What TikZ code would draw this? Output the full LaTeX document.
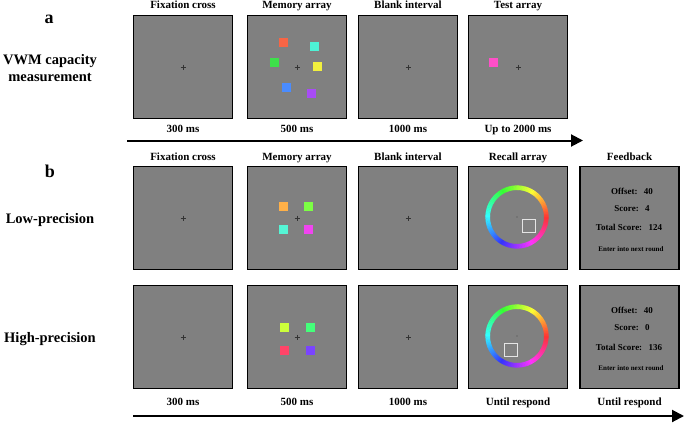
\documentclass[tikz,border=0pt]{standalone}
\usepackage{fontspec}
\setmainfont{Liberation Serif}
\usetikzlibrary{arrows.meta}
\definecolor{panelgray}{HTML}{808080}
\definecolor{cA1}{HTML}{F76545}
\definecolor{cA2}{HTML}{4EF2D6}
\definecolor{cA3}{HTML}{3EE04A}
\definecolor{cA4}{HTML}{F2F03E}
\definecolor{cA5}{HTML}{4A8CFF}
\definecolor{cA6}{HTML}{A84CF5}
\definecolor{cT1}{HTML}{FF4FC8}
\definecolor{cL1}{HTML}{FFB048}
\definecolor{cL2}{HTML}{7CFF44}
\definecolor{cL3}{HTML}{55F5D5}
\definecolor{cL4}{HTML}{F044F0}
\definecolor{cH1}{HTML}{CCFF3A}
\definecolor{cH2}{HTML}{44FF7A}
\definecolor{cH3}{HTML}{FF4468}
\definecolor{cH4}{HTML}{7A44FF}
\tikzset{
  panel/.style={draw=black, line width=1.3pt, fill=panelgray, minimum width=99pt, minimum height=103pt, inner sep=0pt},
  ttl/.style={font=\bfseries\fontsize{11}{13}\selectfont, inner sep=0pt, anchor=base},
  rowlbl/.style={font=\bfseries\fontsize{14.5}{17}\selectfont, inner sep=0pt, anchor=base},
  letterlbl/.style={font=\bfseries\fontsize{18}{21}\selectfont, inner sep=0pt, anchor=base},
  sq/.style={minimum size=9pt, inner sep=0pt},
  fb/.style={font=\bfseries\fontsize{9}{11}\selectfont, inner sep=0pt, anchor=base},
  fbs/.style={font=\bfseries\fontsize{7}{9}\selectfont, inner sep=0pt, anchor=base},
  timeline/.style={line width=2pt, -{Triangle[length=12pt,width=12pt]}},
  fixcross/.pic={\draw[line width=0.5pt, black!80] (-2.5,0)--(2.5,0) (0,-2.5)--(0,2.5);},
  cursorbox/.style={draw=white!80!gray, line width=0.8pt, minimum size=13.5pt, inner sep=0pt},
  colorwheel/.pic={
    \foreach \a in {0,3,...,357}{
      \pgfmathtruncatemacro\hh{mod(360-\a,360)}
      \definecolor{wc}{Hsb}{\hh,0.8,1}
      \draw[wc, line width=4.6pt] (\a:29.3) arc[start angle=\a, end angle=\a+3.6, radius=29.3];
    }
    \fill[black!70] (0,0) circle (0.6);
  },
}
\begin{document}
\begin{tikzpicture}[x=1pt,y=-1pt]
\useasboundingbox (0,0) rectangle (685,423);
% ---------- row a ----------
\node[letterlbl] (la) at (49,23.3) {a};
\node[rowlbl] (va1) at (50,64) {VWM capacity};
\node[rowlbl] (va2) at (50,81) {measurement};
\node[panel] (a1) at (183,67) {};
\node[panel] (a2) at (297,67) {};
\node[panel] (a3) at (408,67) {};
\node[panel] (a4) at (518,67) {};
\node[ttl] (ta1) at (183,8.5) {Fixation cross};
\node[ttl] (ta2) at (297,8.5) {Memory array};
\node[ttl] (ta3) at (408,8.5) {Blank interval};
\node[ttl] (ta4) at (518,8.5) {Test array};
\node[ttl] (da1) at (183,132.7) {300 ms};
\node[ttl] (da2) at (297,132.7) {500 ms};
\node[ttl] (da3) at (408,132.7) {1000 ms};
\node[ttl] (da4) at (518,132.7) {Up to 2000 ms};
\pic at (a1.center) {fixcross};
\pic at (a2.center) {fixcross};
\pic at (a3.center) {fixcross};
\pic at (a4.center) {fixcross};
\node[sq, fill=cA1] (sa1) at (283,42) {};
\node[sq, fill=cA2] (sa2) at (314,46) {};
\node[sq, fill=cA3] (sa3) at (274,62) {};
\node[sq, fill=cA4] (sa4) at (317,66) {};
\node[sq, fill=cA5] (sa5) at (286,87) {};
\node[sq, fill=cA6] (sa6) at (311,93) {};
\node[sq, fill=cT1] (st1) at (493,62) {};
\coordinate (arA0) at (127,140.5);
\coordinate (arA1) at (583,140.5);
\draw[timeline] (arA0) -- (arA1);
% ---------- row b ----------
\node[letterlbl] (lb) at (50,177.7) {b};
\node[rowlbl] (lp) at (50,223) {Low-precision};
\node[rowlbl] (hp) at (50,342) {High-precision};
\node[ttl] (tb1) at (183,160) {Fixation cross};
\node[ttl] (tb2) at (297,160) {Memory array};
\node[ttl] (tb3) at (408,160) {Blank interval};
\node[ttl] (tb4) at (518,160) {Recall array};
\node[ttl] (tb5) at (629.5,160) {Feedback};
% low
\node[panel] (l1) at (183,218) {};
\node[panel] (l2) at (297,218) {};
\node[panel] (l3) at (408,218) {};
\node[panel] (l4) at (518,218) {};
\node[panel] (l5) at (629.5,218) {};
\pic at (l1.center) {fixcross};
\pic at (l2.center) {fixcross};
\pic at (l3.center) {fixcross};
\node[sq, fill=cL1] (sl1) at (283,206) {};
\node[sq, fill=cL2] (sl2) at (308,206) {};
\node[sq, fill=cL3] (sl3) at (283,229) {};
\node[sq, fill=cL4] (sl4) at (308,229) {};
\pic at (517,217) {colorwheel};
\node[cursorbox] (cl) at (529,226) {};
\node[fb] (fl1) at (632,194) {Offset:\hspace{0.7em}40};
\node[fb] (fl2) at (632,211) {Score:\hspace{0.7em}4};
\node[fb] (fl3) at (629,230.7) {Total Score:\hspace{0.7em}124};
\node[fbs] (fl4) at (631,251) {Enter into next round};
% high
\node[panel] (h1) at (183,337) {};
\node[panel] (h2) at (297,337) {};
\node[panel] (h3) at (408,337) {};
\node[panel] (h4) at (518,337) {};
\node[panel] (h5) at (629.5,337) {};
\pic at (h1.center) {fixcross};
\pic at (h2.center) {fixcross};
\pic at (h3.center) {fixcross};
\node[sq, fill=cH1] (sh1) at (284,327) {};
\node[sq, fill=cH2] (sh2) at (310,327) {};
\node[sq, fill=cH3] (sh3) at (284,350) {};
\node[sq, fill=cH4] (sh4) at (310,350) {};
\pic at (517,336) {colorwheel};
\node[cursorbox] (ch) at (511,350) {};
\node[fb] (fh1) at (632,313.3) {Offset:\hspace{0.7em}40};
\node[fb] (fh2) at (632,330) {Score:\hspace{0.7em}0};
\node[fb] (fh3) at (629,350) {Total Score:\hspace{0.7em}136};
\node[fbs] (fh4) at (631,370.7) {Enter into next round};
\node[ttl] (db1) at (183,405) {300 ms};
\node[ttl] (db2) at (297,405) {500 ms};
\node[ttl] (db3) at (408,405) {1000 ms};
\node[ttl] (db4) at (518,405) {Until respond};
\node[ttl] (db5) at (629.5,405) {Until respond};
\coordinate (arB0) at (133,416);
\coordinate (arB1) at (684,416);
\draw[timeline] (arB0) -- (arB1);
\end{tikzpicture}
\end{document}
